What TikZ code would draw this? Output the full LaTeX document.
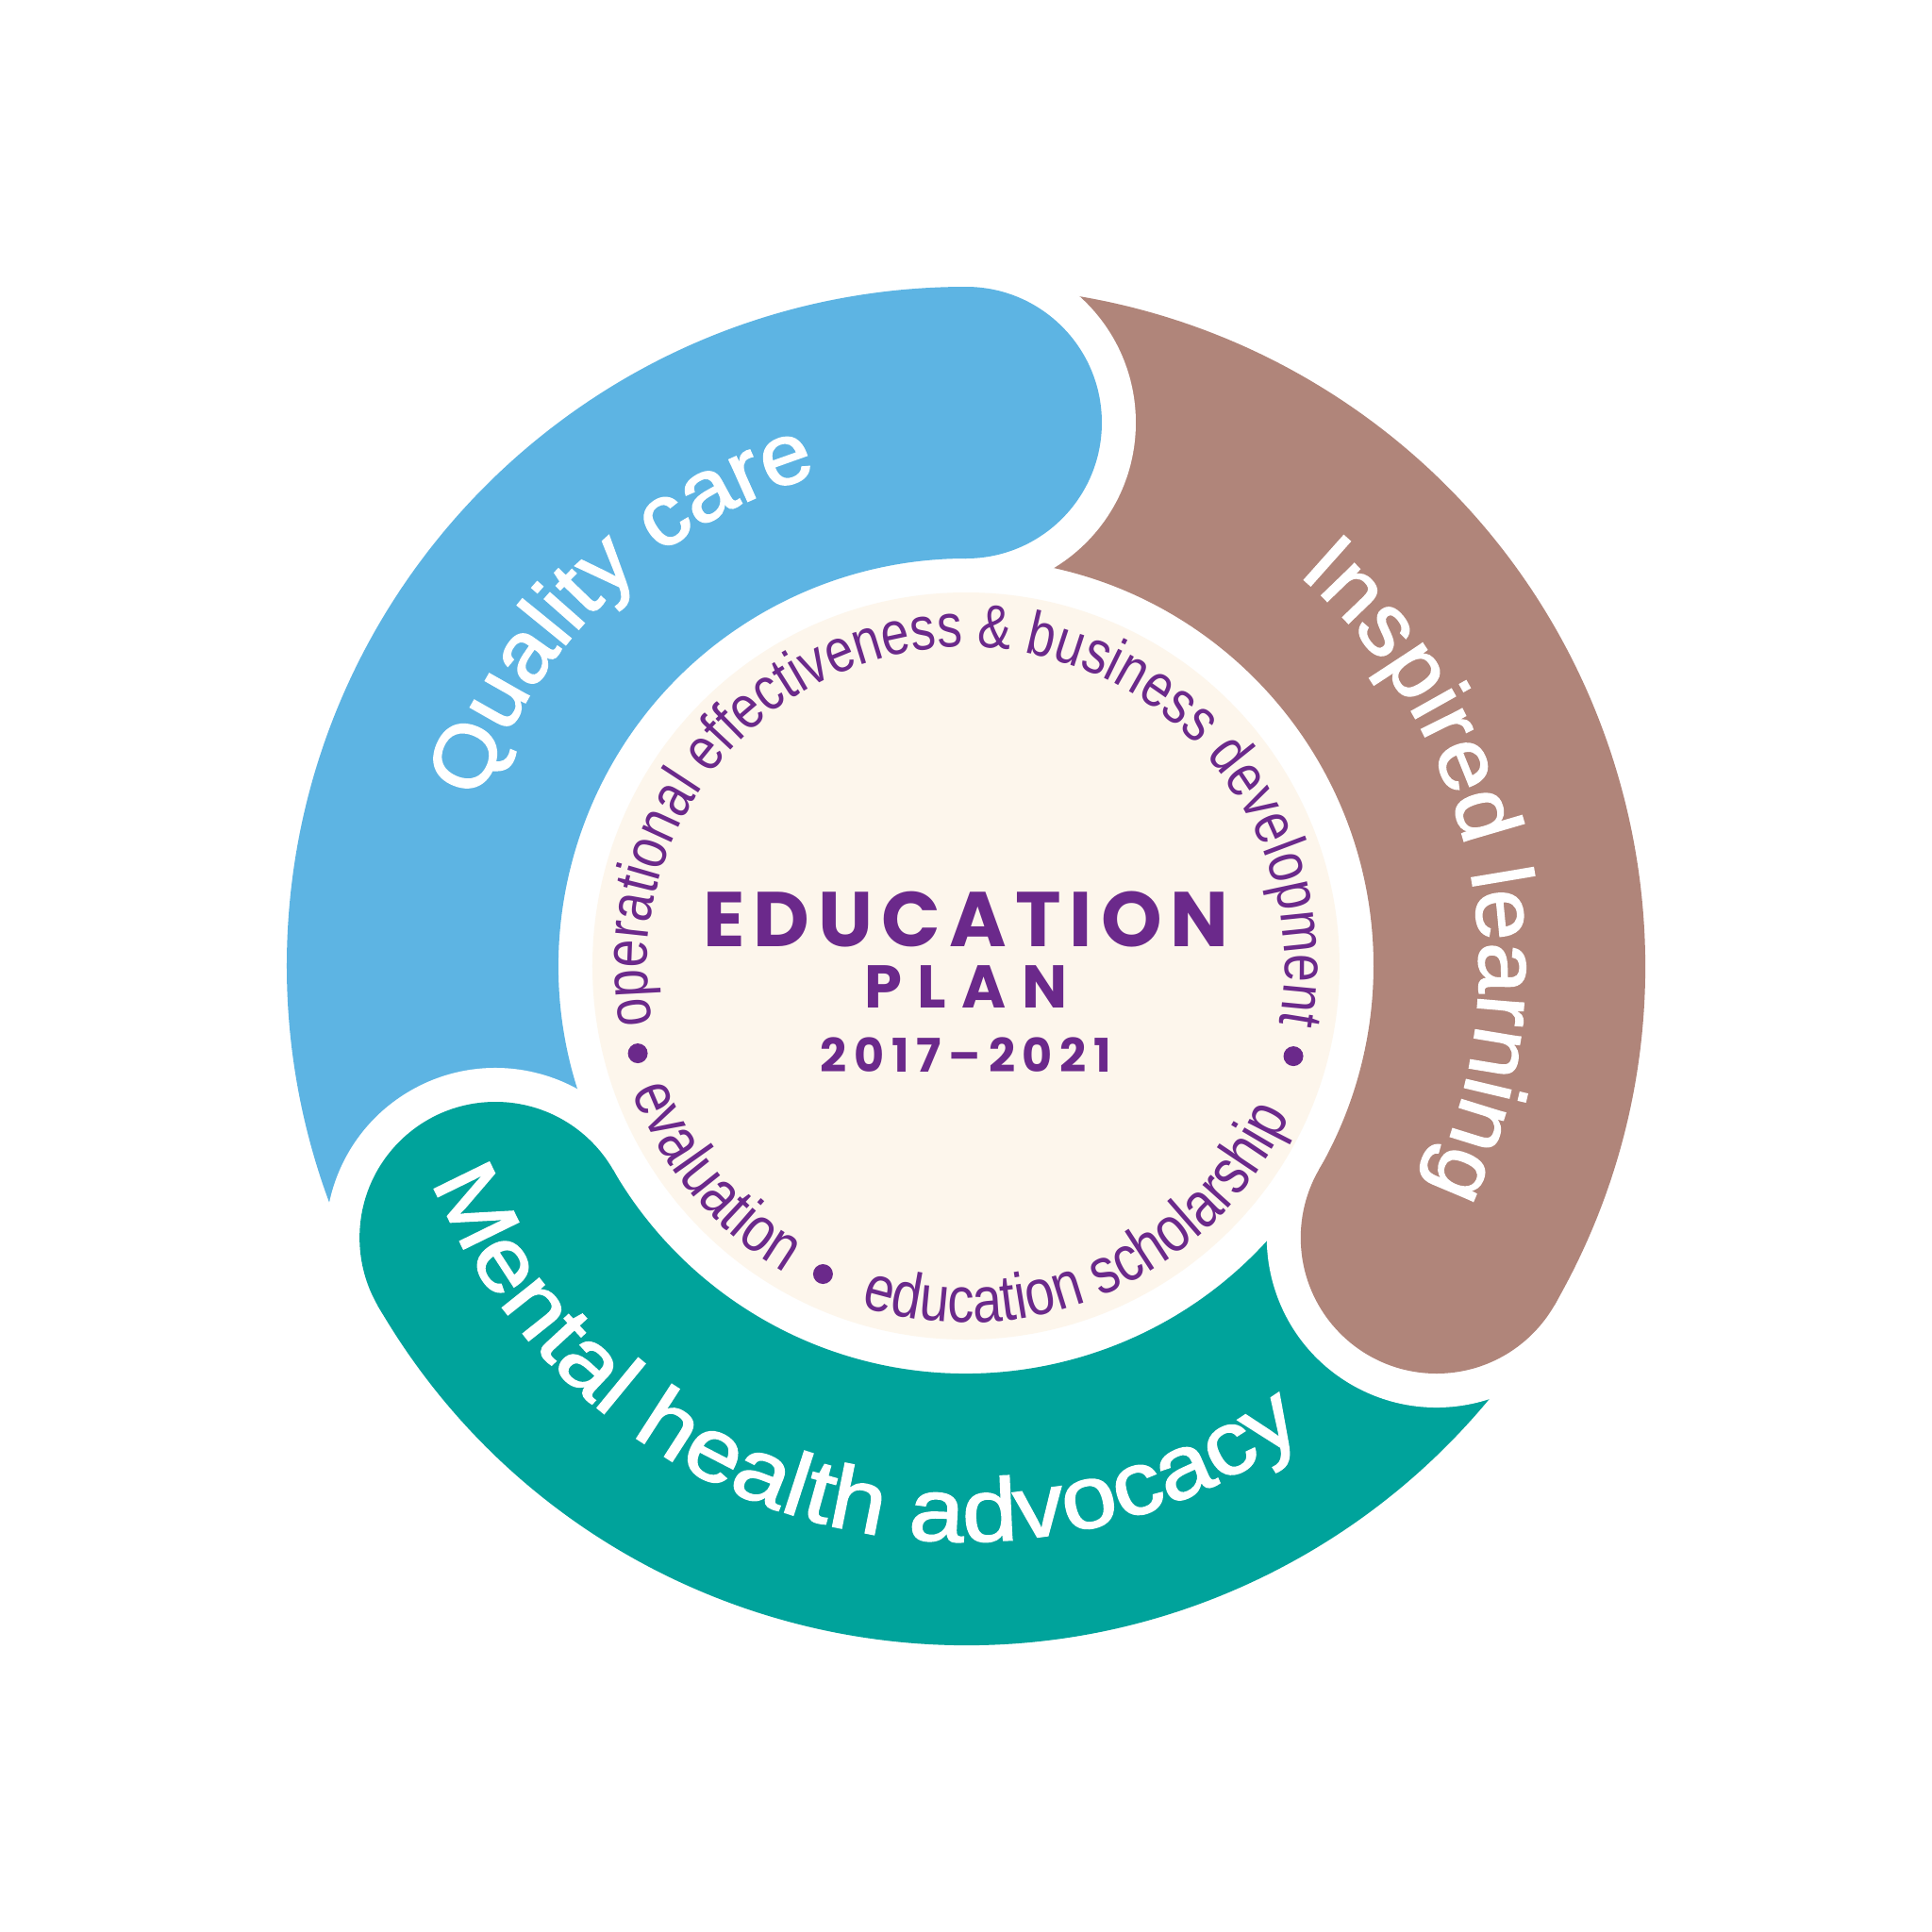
\documentclass[tikz,border=0pt]{standalone}
\usepackage{fontspec}
\usetikzlibrary{decorations.text}
\newfontfamily\ringfont[FakeStretch=1.06,FakeBold=1.8]{Liberation Sans}
\newfontfamily\wideringfont[FakeStretch=1.12,FakeBold=1.8]{Liberation Sans}
\newfontfamily\bandfont[FakeStretch=0.82]{Liberation Sans}
\newfontfamily\titlefont{Poppins}
\definecolor{careblue}{HTML}{5DB4E3}
\definecolor{learnbrown}{HTML}{B0857A}
\definecolor{healthteal}{HTML}{00A39B}
\definecolor{planpurple}{HTML}{6B298B}
\definecolor{disccream}{HTML}{FDF6EC}
\begin{document}
\begin{tikzpicture}[
    ringlabel/.style={decorate, decoration={text along path, text align=center,
        text color=white, text={|\ringfont\fontsize{26}{31}\selectfont|#1}}},
    widelabel/.style={decorate, decoration={text along path, text align=center,
        text color=white, text={|\wideringfont\fontsize{26.8}{32}\selectfont|#1}}},
    bandlabel/.style={decorate, decoration={text along path, text align=center,
        text color=planpurple, text={|\bandfont\fontsize{18.5}{22}\selectfont|#1}}},
    lowlabel/.style={decorate, decoration={text along path, text align=center,
        text color=planpurple, text={|\bandfont\fontsize{19.5}{23}\selectfont|#1}}},
    titletext/.style={text=planpurple, anchor=base, inner sep=0pt}
]
    % Page
    \fill[white] (-10.24,-10.24) rectangle (10.24,10.24);
    \useasboundingbox (-10.24,-10.24) rectangle (10.24,10.24);

    % Ring bands
    \foreach \a/\col in {90/careblue, 210/healthteal, 330/learnbrown} {
        \fill[\col] (\a:7.2) arc[start angle=\a, end angle={\a+117}, radius=7.2]
            -- ({\a+117}:4.32) arc[start angle={\a+117}, end angle=\a, radius=4.32] -- cycle;
    }
    % Round heads with white gap
    \foreach \a/\col in {90/careblue, 210/healthteal, 330/learnbrown} {
        \fill[white] (\a:7.56) arc[start angle=\a, end angle={\a-180}, radius=1.8] -- cycle;
        \fill[\col] (\a:5.76) circle (1.44);
    }

    % Centre disc
    \fill[disccream] (0,0) circle (3.96);

    % Ring labels
    \path[ringlabel={Quality care}] (194:5.44) arc[start angle=194, end angle=74, radius=5.44];
    \path[ringlabel={Inspired learning}] (72:5.44) arc[start angle=72, end angle=-48, radius=5.44];
    \path[widelabel={Mental health advocacy}] (183:6.1) arc[start angle=183, end angle=325, radius=6.1];

    % Disc labels
    \path[bandlabel={operational effectiveness {\&} business development}] (205:3.38) arc[start angle=205, end angle=-25, radius=3.38];
    \path[lowlabel={evaluation}] (190:3.78) arc[start angle=190, end angle=250, radius=3.78];
    \path[lowlabel={education scholarship}] (247:3.78) arc[start angle=247, end angle=341, radius=3.78];
    \foreach \b in {194.9, -15.4, 245.1} {
        \fill[planpurple] (\b:3.6) circle (0.105);
    }

    % Title
    \node[titletext, font=\titlefont\bfseries\fontsize{23.4}{28}\selectfont\addfontfeature{LetterSpace=11}] (edu) at (0,0.21) {EDUCATION};
    \node[titletext, font=\titlefont\bfseries\fontsize{18.2}{22}\selectfont\addfontfeature{LetterSpace=26}] (plan) at (0,-0.44) {PLAN};
    \node[titletext, font=\titlefont\bfseries\fontsize{14}{17}\selectfont\addfontfeature{LetterSpace=16}] (years) at (0,-1.12) {2017–2021};
\end{tikzpicture}
\end{document}
